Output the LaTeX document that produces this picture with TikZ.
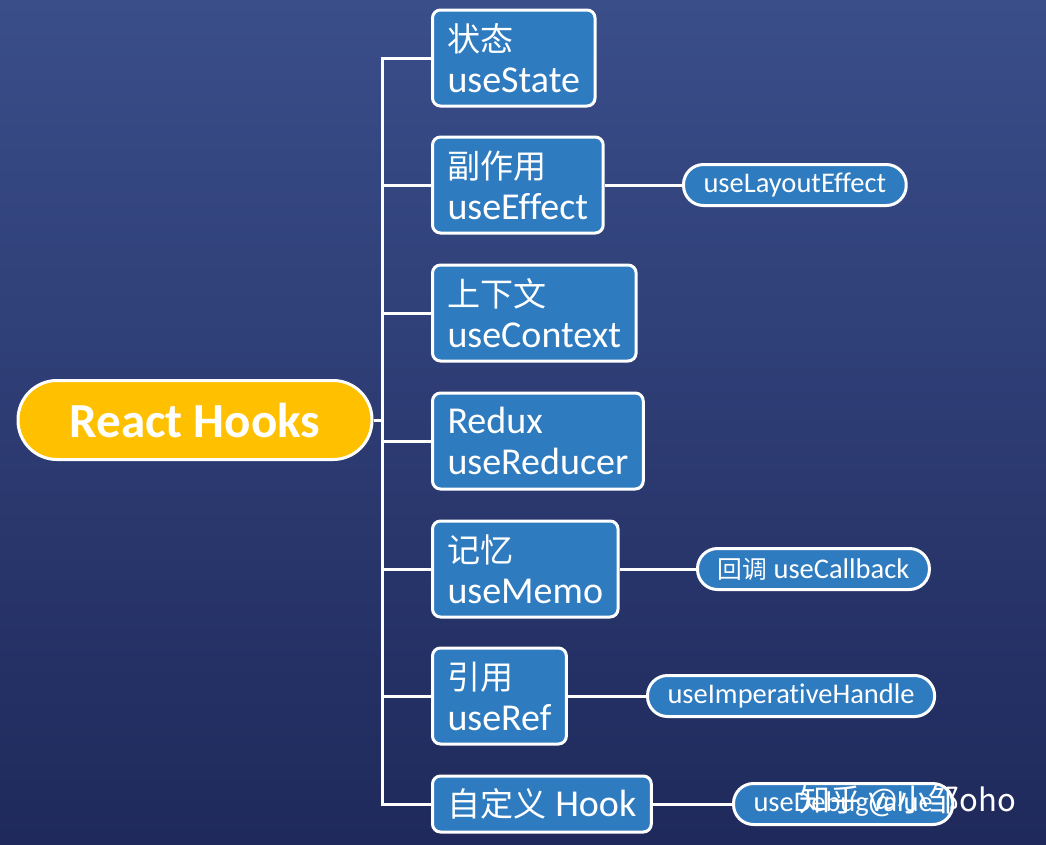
\documentclass[tikz,border=0pt]{standalone}
\usepackage{fontspec}
\setmainfont{Carlito}[Ligatures={NoCommon}]
\newfontfamily\cjk{Noto Sans CJK SC}[Scale=0.87]
\newfontfamily\wmfont{Noto Sans CJK SC}
\definecolor{bgtop}{HTML}{3A4E8A}
\definecolor{bgbot}{HTML}{1F295B}
\definecolor{hookblue}{HTML}{2E7BBF}
\definecolor{rootgold}{HTML}{FFC000}

\begin{document}
\begin{tikzpicture}[x=1pt,y=-1pt]
  \tikzset{root/.style = {shape=rectangle,rounded corners=39pt,draw=white,line width=3pt,fill=rootgold,text=white,font=\fontsize{49}{52}\selectfont\bfseries,minimum width=354pt,minimum height=79pt}}
  \tikzset{hook/.style = {shape=rectangle,rounded corners=8pt,draw=white,line width=3pt,fill=hookblue,text=white,font=\fontsize{38}{41}\selectfont,align=left,anchor=west,inner xsep=15pt,minimum height=96pt}}
  \tikzset{extra/.style = {shape=rectangle,rounded corners=20pt,draw=white,line width=3pt,fill=hookblue,text=white,font=\fontsize{28.5}{30}\selectfont,anchor=west,inner xsep=20pt,minimum height=41pt}}
  \tikzset{edge/.style = {draw=white,line width=3pt}}

  % background
  \shade[top color=bgtop,bottom color=bgbot] (0,0) rectangle (1046,844);
  \useasboundingbox (0,0) rectangle (1046,844);

	\node[root] (root) at (195,420) {React Hooks};
	\coordinate (trunk) at (382,420);

	\node[hook] (h1) at (431,58) {{\cjk 状态}\\useState};
	\node[hook] (h2) at (431,185) {{\cjk 副作用}\\useEffect};
	\node[hook] (h3) at (431,313) {{\cjk 上下文}\\useContext};
	\node[hook] (h4) at (431,441) {Redux\\useReducer};
	\node[hook] (h5) at (431,569) {{\cjk 记忆}\\useMemo};
	\node[hook] (h6) at (431,696) {{\cjk 引用}\\useRef};
	\node[hook,minimum height=56pt] (h7) at (431,804) {{\cjk 自定义} Hook};

	\node[extra] (e1) at (682,185) {useLayoutEffect};
	\node[extra] (e2) at (696,569) {{\cjk 回调} useCallback};
	\node[extra] (e3) at (646,696) {useImperativeHandle};
	\node[extra] (e4) at (732,804) {useDebugValue};

	\draw[edge] (root.east) -- (trunk);
	\draw[edge] (h1.west) -- (h1.west -| trunk) -- (h7.west -| trunk) -- (h7.west);
       \foreach \n in {2,...,6}
    \draw[edge] (h\n.west -| trunk) -- (h\n.west);
       \foreach \from/\to in {h2/e1, h5/e2, h6/e3, h7/e4}
    \draw[edge] (\from.east) -- (\to.west);

	\node[text=white,font=\wmfont\fontsize{31}{34}\selectfont] (wm) at (908,801) {知乎 @小邹oho};
\end{tikzpicture}
\end{document}
